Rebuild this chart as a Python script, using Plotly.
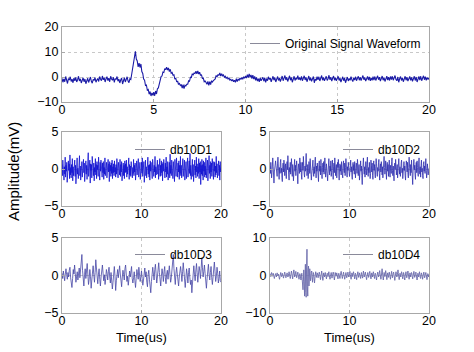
import numpy as np
import plotly.graph_objects as go

# ---------------- data ----------------
orig_signal = [
    -0.5,-2.1,-0.8,-1.9,0.2,-1.4,-2.6,-0.6,-1.2,0.1,-1.8,-0.9,-2.3,-0.4,-1.5,-0.2,-2.0,-1.1,0.3,-1.6,
    -0.7,-2.4,-1.0,-0.3,-1.9,-0.8,-2.7,-1.3,-0.5,-2.2,-1.1,0.0,-1.7,-2.5,-0.9,-1.4,-0.2,-2.1,-1.2,-0.6,
    -1.8,0.2,-0.9,-1.5,0.4,-1.1,-0.3,-2.0,-0.7,0.1,-1.4,-0.5,-1.9,0.3,-0.8,-1.3,-0.1,-2.2,-0.6,-1.0,
    0.2,-1.7,-0.8,-2.4,-1.2,-0.4,-2.8,-1.1,-0.3,-2.0,-0.9,0.1,-1.6,-2.3,-0.7,-1.0,1.2,3.8,6.8,8.6,
    10.3,7.2,6.4,4.0,5.6,3.8,5.2,2.2,1.4,-0.8,-1.3,-3.4,-3.2,-5.3,-5.0,-6.9,-5.8,-7.6,-6.4,-7.3,
    -6.1,-7.5,-5.6,-6.8,-4.7,-4.4,-2.3,-1.9,0.2,0.4,2.0,1.8,3.4,2.9,3.9,2.8,3.6,2.2,3.1,1.5,
    1.8,0.7,0.9,-0.9,-0.4,-2.0,-1.6,-3.0,-2.6,-3.4,-3.0,-4.4,-3.1,-4.6,-3.3,-3.6,-2.9,-2.9,-1.5,-1.7,
    -0.1,-0.2,1.3,0.9,1.6,1.4,2.3,1.3,2.4,1.2,1.9,0.6,1.0,-0.6,-0.4,-1.9,-1.6,-2.2,-2.9,-1.8,
    -3.3,-1.9,-3.0,-1.5,-2.0,-1.4,-0.9,-0.8,0.6,0.1,0.9,0.7,1.6,0.4,1.3,0.5,0.8,-0.1,0.3,-0.6,
    -0.1,-0.8,-0.4,-1.2,-0.9,-1.6,-1.0,-1.9,-1.3,-2.1,-0.7,-1.8,-0.9,-1.3,-0.4,-1.0,-0.2,-0.9,0.1,-0.5,
    0.3,-0.4,0.9,-0.2,1.2,0.0,0.8,-0.6,0.7,-0.8,0.2,-1.3,-0.2,-1.6,-0.7,-1.9,-0.4,-1.5,-0.8,-0.1,
    -1.7,-0.3,-2.2,-0.6,-1.5,0.1,-1.0,-0.4,-1.9,-0.6,0.3,-1.3,-0.2,-2.0,-0.8,0.2,-1.4,-0.5,-1.8,-0.3,
    0.4,-1.5,-0.4,0.6,-1.2,-0.1,-1.8,-0.5,0.5,-1.3,-0.2,-2.1,-0.7,0.3,-1.4,-0.3,-1.0,0.6,-1.1,-0.2,
    -1.3,0.3,-1.5,-0.4,0.5,-1.2,-0.1,-1.9,-0.6,0.4,-1.4,-0.3,-1.7,-0.5,0.2,-2.3,-0.8,-1.4,0.1,-1.1,
    0.1,-1.6,-0.4,0.6,-1.3,-0.2,-1.5,-0.6,0.3,-1.4,-0.7,0.7,-1.1,-0.1,-1.6,-0.5,0.4,-1.3,-0.3,-1.5,
    -0.2,0.3,-1.4,-0.5,-2.0,-0.7,0.1,-1.5,-0.4,-2.3,-1.0,0.0,-1.6,-0.6,-1.3,0.1,-1.1,-1.8,-0.3,-1.2,
    0.1,-1.5,-0.5,0.3,-1.3,-0.1,-1.4,-0.4,0.6,-1.1,-0.2,-1.6,-0.6,0.2,-1.2,0.0,-1.5,-0.4,-1.3,0.1,
    -1.2,0.2,-1.4,-0.3,0.5,-1.1,-0.1,-1.6,-0.5,0.4,-1.3,-0.2,-1.8,-0.6,0.3,-1.2,-0.1,-1.4,0.2,-1.0,
    0.3,-1.3,-0.2,0.6,-1.0,-1.5,0.0,-2.1,-0.7,0.2,-1.4,-0.3,-1.9,-0.6,0.3,-1.3,-0.1,-1.6,-0.4,0.2,
    -1.3,-0.2,-1.7,-0.4,0.3,-1.4,0.0,-2.0,-0.6,0.2,-1.2,0.3,-1.5,-0.3,0.5,-1.1,0.1,-1.3,-0.2,-0.9,
    -0.4,
]

db10D1 = [
    0.6,-0.9,1.2,-0.4,0.8,-1.5,0.3,-0.7,1.6,-1.1,0.5,-0.3,0.9,-1.8,0.4,-0.6,1.1,-0.2,0.7,-1.3,
    1.9,-0.8,0.2,-1.2,0.6,-0.5,1.4,-1.6,0.3,-0.9,0.8,-0.1,1.2,-1.0,0.5,-2.0,0.9,-0.4,1.5,-0.7,
    0.1,-1.3,0.7,-0.6,1.8,-0.9,0.4,-1.5,0.6,-0.2,1.0,-1.1,0.3,-0.8,1.3,-0.5,0.8,-1.7,0.2,-0.4,
    1.1,-0.7,0.5,-1.4,0.9,-0.3,2.2,-1.0,0.4,-0.6,1.2,-1.9,0.7,-0.2,0.6,-1.2,1.7,-0.5,0.3,-0.9,
    0.8,-1.6,0.2,-0.4,1.4,-0.8,0.6,-1.3,1.0,-0.1,0.5,-1.0,1.6,-0.7,0.3,-1.5,0.9,-0.3,1.2,-0.6,
    0.4,-1.1,0.8,-0.5,1.0,-1.4,0.2,-0.7,1.5,-0.9,0.6,-0.2,0.9,-1.2,0.4,-0.8,1.3,-0.4,0.7,-1.7,
    1.0,-0.3,0.5,-1.0,0.8,-0.6,1.2,-1.3,0.3,-0.5,0.7,-0.9,1.1,-0.4,0.2,-1.1,0.6,-0.7,1.4,-0.2,
    0.5,-1.2,0.9,-0.3,0.4,-0.8,1.3,-1.0,0.6,-0.4,1.0,-1.6,0.2,-0.6,0.8,-0.9,0.5,-1.3,1.1,-0.5,
    0.7,-0.4,1.2,-1.1,0.3,-0.7,0.9,-0.2,1.5,-1.4,0.6,-0.8,0.4,-1.0,1.0,-0.3,0.7,-1.2,0.2,-0.6,
    1.3,-0.9,0.5,-0.4,0.8,-1.5,0.3,-0.6,1.1,-0.8,0.6,-0.2,1.4,-1.1,0.4,-0.7,0.9,-1.4,0.5,-0.3,
    0.9,-0.6,1.5,-1.0,0.4,-0.3,1.0,-1.8,0.7,-0.5,1.2,-0.9,0.3,-1.2,0.8,-0.4,1.6,-0.7,0.5,-1.1,
    0.6,-1.5,1.1,-0.3,0.9,-0.8,0.4,-1.3,1.3,-0.6,0.7,-1.0,0.5,-0.4,1.7,-1.2,0.3,-0.8,1.0,-0.5,
    1.2,-0.7,0.6,-1.4,0.8,-0.2,1.4,-1.0,0.5,-0.9,1.1,-0.5,0.7,-1.6,0.9,-0.3,1.3,-0.8,0.4,-1.2,
    0.8,-0.4,1.6,-1.1,0.3,-0.7,1.0,-1.5,0.6,-0.3,0.9,-1.2,2.0,-0.6,0.5,-0.9,1.2,-0.4,0.7,-1.3,
    1.0,-0.8,0.4,-1.7,1.3,-0.5,0.6,-1.0,1.5,-0.7,0.3,-1.1,0.8,-0.4,1.1,-1.4,0.5,-0.6,1.7,-0.9,
    0.5,-1.2,0.9,-0.3,1.4,-1.0,0.6,-0.8,1.2,-1.5,0.4,-0.5,1.0,-1.3,0.7,-0.2,1.5,-1.1,0.3,-0.7,
    1.1,-0.6,2.1,-0.9,0.5,-1.4,0.8,-0.3,1.3,-1.0,0.6,-1.7,0.9,-0.5,1.2,-0.8,0.4,-1.2,1.6,-0.4,
    0.7,-1.0,0.3,-0.6,1.4,-1.3,0.8,-0.4,1.0,-2.1,0.5,-0.7,1.3,-0.9,0.6,-1.5,1.1,-0.3,0.9,-1.1,
    0.4,-0.8,1.5,-1.2,0.7,-0.5,1.2,-1.6,0.3,-0.9,1.8,-0.6,0.5,-1.3,1.0,-0.4,0.8,-1.0,1.4,-0.7,
    0.6,-1.4,1.0,-0.3,0.9,-1.1,0.4,-0.8,1.7,-0.5,0.7,-1.2,0.3,-0.6,1.1,-0.9,0.5,-1.5,1.0,-0.4,
    0.2,
]

db10D2 = [
    0.4,-0.6,0.9,0.2,-1.2,-0.5,0.7,1.5,0.3,-0.8,-1.9,-0.4,0.6,-0.2,1.1,0.5,-0.7,0.3,-1.0,0.8,
    1.6,0.4,-0.3,-1.4,0.2,-0.6,0.9,1.3,-0.5,0.1,-1.1,-1.7,0.3,0.8,-0.4,1.2,0.6,-0.9,-0.2,0.7,
    -0.6,-1.3,0.5,1.0,-0.1,1.8,0.4,-0.8,-1.5,0.2,-0.4,0.9,-0.7,0.3,1.4,-0.2,-1.0,0.6,0.1,-1.6,
    -0.5,0.8,1.3,-0.3,0.5,-0.9,-0.2,1.1,0.4,-1.2,-2.0,-0.3,0.7,0.2,-0.6,1.5,0.6,-0.4,0.9,-0.8,
    -1.4,0.3,0.9,-0.2,1.7,0.5,-0.7,-1.1,0.4,-0.3,0.8,2.1,0.2,-0.9,-0.4,0.6,-1.3,-0.5,1.0,0.3,
    -0.6,1.4,0.7,-0.2,-1.5,-0.7,0.5,0.1,1.2,-0.4,-1.0,0.3,-0.6,0.9,1.6,-0.1,-1.2,0.4,-0.3,0.8,
    0.2,-0.9,-1.7,0.6,1.1,-0.3,0.4,-0.8,1.3,0.5,-0.5,-1.3,0.2,0.8,-0.4,1.0,-0.7,-0.1,1.5,0.3,
    -1.1,-0.4,0.7,-0.2,0.5,-1.6,-0.6,0.9,1.4,0.1,-0.8,0.4,-0.3,1.1,-1.0,-0.5,0.6,1.2,-0.2,-1.4,
    0.3,0.8,-0.5,1.5,0.4,-0.9,-0.2,0.6,-1.2,-0.6,0.9,0.2,1.3,-0.4,-1.5,0.1,0.7,-0.3,0.5,-0.8,
    1.0,0.3,-0.7,-1.2,0.4,1.1,-0.1,-0.5,0.8,-0.9,0.2,1.4,0.6,-0.6,-1.1,0.3,-0.2,0.9,-0.4,0.5,
    -1.0,-0.3,0.7,1.2,-0.4,0.3,-0.8,-1.4,0.5,0.9,-0.2,0.6,-0.7,1.0,0.2,-1.2,-0.5,0.8,0.4,-0.6,
    1.3,0.5,-0.9,-0.1,0.6,-1.5,-0.6,0.7,1.1,-0.3,0.4,-0.9,-2.1,-0.4,0.8,1.5,0.2,-0.7,0.3,-1.1,
    -0.2,1.0,0.4,-0.8,0.6,1.6,-0.3,-1.0,0.2,-0.5,0.9,0.3,-1.3,-0.6,1.2,0.5,-0.4,0.8,-0.9,-1.4,
    0.4,1.1,-0.2,0.6,-0.7,-1.2,0.3,1.4,0.7,-0.5,-1.0,0.2,-0.3,0.9,1.3,-0.6,-1.5,0.1,0.7,-0.4,
    1.0,0.4,-0.8,0.3,-1.2,-0.5,0.8,1.7,0.2,-0.7,-0.2,1.1,-0.6,-1.4,0.5,0.9,-0.3,0.6,-1.0,0.2,
    1.2,-0.4,-1.1,0.5,0.1,-0.6,1.0,1.5,-0.2,-0.9,0.4,-0.5,-1.6,0.3,0.8,-0.1,1.3,0.4,-0.8,-0.3,
    0.6,-1.2,-0.4,0.9,1.4,0.2,-0.7,0.3,-1.0,-0.3,0.8,1.2,-0.5,0.1,-1.3,-0.6,0.7,1.0,-0.2,0.4,
    -0.9,-1.5,0.3,1.1,0.5,-0.4,0.9,-0.7,-1.2,0.2,1.6,0.4,-0.3,-0.9,0.6,-0.5,1.2,0.3,-1.1,-2.1,
    -0.3,0.7,1.3,-0.1,0.5,-0.8,-1.4,0.4,0.9,-0.5,1.1,0.2,-0.6,-1.0,0.8,1.5,-0.2,-0.7,0.3,-1.1,
    0.5,1.2,-0.4,0.1,-0.9,-1.3,0.6,1.0,-0.3,0.4,-0.6,0.9,1.4,-0.2,-1.2,-0.5,0.7,0.2,-0.8,-0.3,
    0.1,
]

db10D3 = [
    0.3,-0.4,0.6,-0.1,-0.7,0.2,0.9,0.1,-0.5,0.4,-0.2,0.7,
    1.1,-0.3,-1.0,-1.6,-0.4,0.8,0.2,1.4,0.3,-0.9,-0.2,0.5,
    -0.6,0.2,1.0,-0.3,0.6,1.9,2.8,0.7,-0.8,-1.4,0.1,0.9,
    -0.4,0.5,1.6,0.2,-1.2,-0.5,0.8,-0.1,-1.7,-0.6,0.7,1.3,
    0.1,-0.9,0.4,2.1,1.0,-0.3,-1.1,0.2,0.9,-0.5,-1.4,-0.2,
    0.6,1.4,0.3,-0.7,0.1,-1.2,-0.4,0.8,0.3,-0.6,0.5,1.1,
    -0.2,-1.0,0.4,-0.5,-1.8,-0.9,0.6,1.2,-0.1,-2.0,-0.7,0.3,
    0.8,-0.3,0.5,1.3,0.2,-0.9,-1.5,-0.2,0.7,0.1,-0.6,0.9,
    1.4,0.2,-0.8,-0.1,-1.3,-0.5,0.6,-0.2,0.9,1.2,-0.4,-1.0,
    -0.3,0.5,-0.7,-1.6,-0.4,0.8,0.2,-0.5,1.1,0.4,-0.8,-0.2,
    0.6,-0.4,-1.3,-0.6,0.3,1.0,-0.2,0.5,-0.9,-1.5,0.1,0.7,
    -0.5,-1.2,-2.3,-0.8,0.4,1.1,0.2,-0.6,0.8,1.5,0.3,-1.0,
    -0.2,0.6,1.7,0.4,-0.7,-1.4,-0.1,0.9,0.2,-0.8,0.5,1.2,
    -0.3,-1.1,0.2,0.7,-0.5,0.4,1.3,0.1,-0.9,-0.3,0.8,1.4,
    2.8,0.9,-0.6,-1.2,0.3,1.1,0.2,-0.7,-1.4,-0.2,0.6,1.2,
    0.3,-0.8,0.5,1.7,0.6,-0.5,-1.6,-0.4,0.9,0.2,-1.0,0.4,
    1.0,-0.3,-1.2,-0.6,-2.3,-1.0,0.5,1.3,0.1,-0.7,0.6,1.6,
    0.4,-0.9,0.2,1.2,0.6,-0.4,0.9,2.3,1.1,-0.2,0.5,1.4,
    0.3,-1.1,-1.7,-0.4,0.8,1.5,0.2,-0.6,0.4,1.2,-0.3,-1.2,
    -0.2,0.9,1.8,0.5,-0.8,-0.1,1.1,0.3,-1.0,-0.4,0.6,-0.7,
    -0.9,
]

db10D4 = [
    0.5,0.2,-0.3,0.4,0.8,0.3,-0.2,0.1,0.6,-0.1,-0.5,-0.8,-0.2,0.3,0.5,0.1,-0.4,0.2,0.7,0.3,
    -0.1,0.4,0.2,-0.6,-1.0,-0.3,0.5,0.8,0.2,-0.3,0.1,0.6,0.3,-0.2,-0.7,-0.1,0.4,0.9,0.5,-0.2,
    -0.6,-0.2,0.3,0.7,0.2,-0.4,-0.1,0.5,1.0,0.4,-0.3,-0.8,-0.2,0.6,1.2,0.5,-0.5,-0.9,0.1,0.8,
    1.5,0.6,-0.4,-0.1,0.7,1.1,0.2,-0.6,-0.3,0.4,0.9,0.3,-0.5,-1.0,-0.2,0.5,0.1,-0.7,-1.2,-0.3,
    0.6,-1.0,-2.5,-3.8,-1.5,1.5,-2.0,-5.5,-1.0,3.0,-4.5,-5.8,2.0,7.0,-3.0,-5.5,1.5,2.5,-2.8,-1.5,
    1.8,0.5,-1.4,-0.6,0.9,1.2,-0.3,-1.8,-0.5,0.8,0.4,-0.9,-2.0,-0.7,0.6,1.0,0.2,-0.5,0.3,0.7,
    0.1,-0.6,-0.2,0.5,0.9,0.3,-0.5,-1.1,-0.4,0.6,1.2,0.4,-0.7,-1.3,-0.3,0.7,0.2,-0.4,0.3,0.8,
    0.2,-0.5,-0.9,-0.1,0.6,0.3,-0.3,0.4,1.0,0.2,-0.6,-1.0,-0.2,0.5,0.8,-0.1,-0.7,-0.2,0.4,0.9,
    0.3,-0.6,-1.2,-0.3,0.8,0.4,-0.2,0.3,0.7,0.1,-0.5,-0.9,0.0,0.6,0.2,-0.4,-0.8,0.1,0.7,1.1,
    0.4,-0.3,-0.8,-0.2,0.5,0.9,0.2,-0.4,-1.0,-0.3,0.4,0.8,0.1,-0.6,-0.2,0.5,0.9,0.3,-0.4,-0.1,
    0.6,1.1,0.3,-0.5,-1.0,-0.2,0.7,0.4,-0.3,0.2,1.0,0.5,-0.4,-0.9,-0.1,0.6,0.3,-0.6,-1.1,-0.2,
    0.5,1.0,0.2,-0.5,0.1,0.7,0.3,-0.4,-0.8,0.0,0.8,0.4,-0.3,-0.7,0.2,1.2,0.5,-0.4,-0.1,0.6,
    0.9,0.1,-0.6,-1.1,-0.3,0.5,0.8,0.2,-0.5,-0.2,0.6,1.1,0.4,-0.5,-0.9,-0.1,0.7,0.3,-0.4,0.2,
    1.0,0.5,-0.3,-0.8,0.1,0.6,0.2,-0.6,-1.2,-0.2,0.5,0.9,0.3,-0.4,-0.1,0.7,1.3,0.4,-0.5,-1.0,
    -0.3,0.6,1.8,0.7,-0.4,-1.2,-0.2,0.8,0.5,-0.3,0.3,1.3,0.6,-0.6,-1.1,-0.1,0.7,0.2,-0.5,0.1,
    0.9,0.4,-0.4,-1.0,-0.2,0.6,1.1,0.3,-0.6,-0.1,0.5,0.9,0.2,-0.7,-1.3,-0.3,0.6,1.0,0.3,-0.4,
    -0.1,0.7,1.5,0.5,-0.5,-1.1,-0.2,0.6,0.3,-0.4,0.2,1.0,0.6,-0.3,-0.9,0.0,0.8,0.4,-0.5,-1.2,
    -0.3,0.5,1.0,0.2,-0.6,-0.2,0.6,1.2,0.4,-0.5,-1.0,-0.1,0.7,0.3,-0.4,0.1,0.8,0.5,-0.3,-0.9,
    -0.2,0.6,1.1,0.3,-0.5,-0.1,0.5,0.9,0.2,-0.6,-1.2,-0.3,0.6,0.2,-0.4,0.3,1.0,0.4,-0.5,-0.8,
    0.0,0.7,0.3,-0.4,-1.0,-0.2,0.5,0.9,0.1,-0.6,-0.3,0.4,0.8,0.2,-0.5,-1.1,-0.3,0.5,0.2,-0.4,
    0.3,
]

series_names = ["Original Signal Waveform", "db10D1", "db10D2", "db10D3", "db10D4"]
series_values = [orig_signal, db10D1, db10D2, db10D3, db10D4]
time_start, time_end = 0, 20
x_label = "Time(us)"
y_label = "Amplitude(mV)"

# ---------------- styling ----------------
FONT = "Liberation Sans, Arial, sans-serif"
line_colors = ["#1a1aa6", "#1010d0", "#3030b0", "#4646a6", "#6a6aac"]
line_widths = [1.1, 0.8, 0.8, 0.8, 0.9]
y_ranges = [[-10, 20], [-5, 5], [-5, 5], [-5, 5], [-10, 10]]
y_dticks = [10, 5, 5, 5, 10]
x_dticks = [5, 10, 10, 10, 10]

W, H = 474, 352
ml, mr, mt, mb = 62, 45, 27, 39
pw, ph = W - ml - mr, H - mt - mb

def fx(px):
    return (px - ml) / pw

def fy(py):
    return (H - mb - py) / ph

x_domains = [[0, 1], [0, fx(221)], [fx(270), 1], [0, fx(221)], [fx(270), 1]]
y_domains = [[fy(102), 1], [fy(206), fy(132)], [fy(206), fy(132)],
             [0, fy(238)], [0, fy(238)]]
legend_pos = [(fx(426), fy(29)), (fx(218), fy(135)), (fx(426), fy(135)),
              (fx(218), fy(240)), (fx(426), fy(240))]

fig = go.Figure()
layout = dict(
    width=W, height=H,
    margin=dict(l=ml, r=mr, t=mt, b=mb, pad=0),
    paper_bgcolor="white", plot_bgcolor="white",
    font=dict(family=FONT, size=12, color="black"),
)

for k, (name, vals) in enumerate(zip(series_names, series_values)):
    n = k + 1
    sfx = "" if n == 1 else str(n)
    xs = np.linspace(time_start, time_end, len(vals))
    fig.add_trace(go.Scatter(
        x=xs, y=vals, mode="lines", name=name, showlegend=False,
        line=dict(color=line_colors[k], width=line_widths[k]),
        xaxis="x" + sfx, yaxis="y" + sfx, hoverinfo="skip"))
    # legend entry (MATLAB shows a thin grey sample line)
    fig.add_trace(go.Scatter(
        x=[None], y=[None], mode="lines", name=name,
        line=dict(color="#8a8a9a", width=1),
        xaxis="x" + sfx, yaxis="y" + sfx, legend="legend" + sfx))
    ax_common = dict(showline=True, mirror=True, linecolor="#a8a8a8", linewidth=1,
                     showgrid=True, gridcolor="#c8c8c8", griddash="dot", gridwidth=1,
                     zeroline=False, ticks="inside", ticklen=3, tickcolor="#a8a8a8",
                     tickfont=dict(family=FONT, size=12.5, color="black"))
    xa = dict(ax_common, domain=x_domains[k], range=[time_start, time_end],
              dtick=x_dticks[k], tick0=0, anchor="y" + sfx, ticklabelstandoff=-4)
    ya = dict(ax_common, domain=y_domains[k], range=y_ranges[k],
              dtick=y_dticks[k], tick0=0, anchor="x" + sfx)
    layout["xaxis" + sfx] = xa
    layout["yaxis" + sfx] = ya
    lx, ly = legend_pos[k]
    layout["legend" + sfx] = dict(
        x=lx, y=ly, xanchor="right", yanchor="top", bgcolor="rgba(255,255,255,0)",
        borderwidth=0, font=dict(family=FONT, size=12, color="black"),
        itemwidth=30, tracegroupgap=0)

annotations = [
    dict(text=y_label, xref="paper", yref="paper", x=fx(13), y=fy(172),
         textangle=-90, showarrow=False, xanchor="center", yanchor="middle",
         font=dict(family=FONT, size=15, color="black")),
    dict(text=x_label, xref="paper", yref="paper", x=fx(141.5), y=fy(337),
         showarrow=False, xanchor="center", yanchor="middle",
         font=dict(family=FONT, size=13, color="black")),
    dict(text=x_label, xref="paper", yref="paper", x=fx(349.5), y=fy(337),
         showarrow=False, xanchor="center", yanchor="middle",
         font=dict(family=FONT, size=13, color="black")),
]
layout["annotations"] = annotations

fig.update_layout(**layout)
fig.write_html("out.html")
